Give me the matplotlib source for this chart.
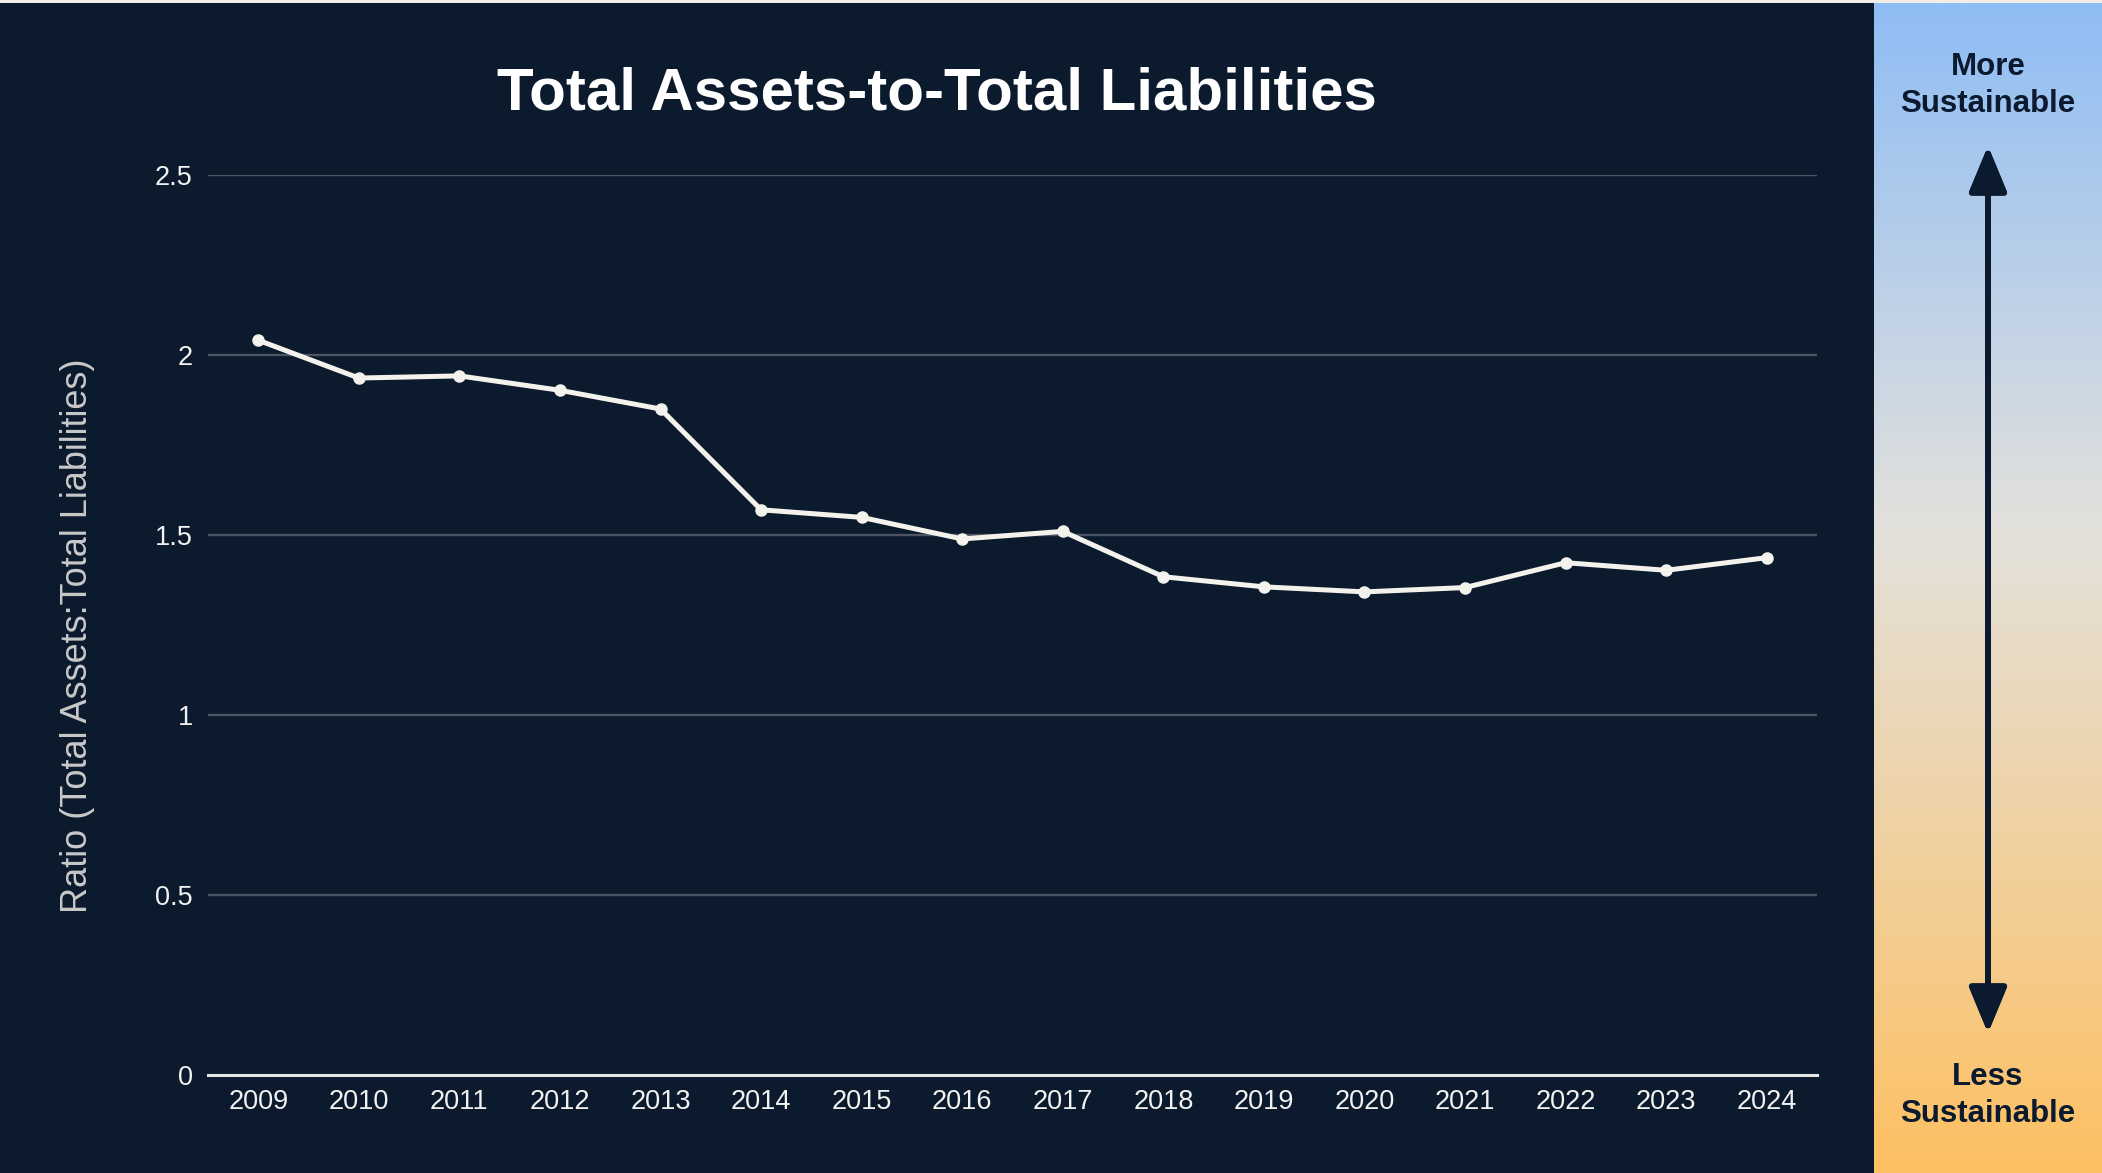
import matplotlib
matplotlib.use("Agg")
import matplotlib.pyplot as plt
import numpy as np
from matplotlib.patches import Rectangle
from matplotlib.colors import LinearSegmentedColormap

years = [2009, 2010, 2011, 2012, 2013, 2014, 2015, 2016,
         2017, 2018, 2019, 2020, 2021, 2022, 2023, 2024]
ratio = [2.041, 1.936, 1.942, 1.902, 1.850, 1.570, 1.549, 1.489,
         1.510, 1.384, 1.356, 1.342, 1.354, 1.423, 1.402, 1.437]
y_ticks = [0, 0.5, 1, 1.5, 2, 2.5]
y_tick_labels = ["0", "0.5", "1", "1.5", "2", "2.5"]

title = "Total Assets-to-Total Liabilities"
y_label = "Ratio (Total Assets:Total Liabilities)"
top_note = "More\nSustainable"
bottom_note = "Less\nSustainable"

bg = "#0b1a2d"
navy = "#0b1a2e"
grid_col = "#4a5462"
line_col = "#f4f2ec"

plt.rcParams['font.family'] = ['Liberation Sans', 'DejaVu Sans']

W, H = 2102, 1173
fig = plt.figure(figsize=(W / 100, H / 100), dpi=100, facecolor=bg)

# thin light strip along the top edge
fig.patches.append(Rectangle((0, 1 - 3 / H), 1, 3 / H, transform=fig.transFigure,
                             facecolor="#f2eee6", edgecolor="none", zorder=5))

# gradient side panel
panel_x = 1874 / W
gax = fig.add_axes([panel_x, 0, 1 - panel_x, 1 - 3 / H])
cmap = LinearSegmentedColormap.from_list(
    "sust", [(0.0, "#8fbdf5"), (0.45, "#e3e1dc"), (1.0, "#fec062")])
grad = np.linspace(0, 1, 512).reshape(-1, 1)
gax.imshow(grad, aspect="auto", cmap=cmap, extent=[0, 1, 1, 0])
gax.set_xlim(0, 1)
gax.set_ylim(1, 0)
gax.axis("off")

# main plot
ax = fig.add_axes([208 / W, 1 - 1075 / H, (1817 - 208) / W, (1075 - 175) / H])
ax.set_facecolor(bg)
x = np.arange(len(years))
ax.plot(x, ratio, color=line_col, lw=3.6, marker="o", ms=8,
        markerfacecolor=line_col, markeredgecolor=line_col, zorder=3,
        solid_joinstyle="round")
ax.set_xlim(-0.5, len(years) - 0.5)
ax.set_ylim(0, 2.5)
ax.set_xticks(x)
ax.set_xticklabels([str(y) for y in years])
ax.set_yticks(y_ticks)
ax.set_yticklabels(y_tick_labels)
ax.tick_params(axis="both", length=0, labelsize=19.5, colors="#f2f2f2")
ax.tick_params(axis="x", pad=10)
ax.tick_params(axis="y", pad=11)
for t in y_ticks[1:]:
    ax.axhline(t, color=grid_col, lw=1.7, zorder=1)
for s in ["top", "right", "left"]:
    ax.spines[s].set_visible(False)
ax.spines["bottom"].set_color("#e6e6e6")
ax.spines["bottom"].set_linewidth(2.2)
ax.spines["bottom"].set_zorder(4)

fig.text(78 / W, 1 - 636 / H, y_label, rotation=90, ha="center", va="center",
         fontsize=26, color="#c9c9c9")

fig.text(937 / W, 1 - 110 / H, title, ha="center", va="baseline",
         fontsize=43.2, fontweight="bold", color="white")

# double arrow and notes on the panel
ax_x = 1988 / W
fig.add_artist(plt.annotate(
    "", xy=(ax_x, 1 - 146 / H), xytext=(ax_x, 1 - 1033 / H),
    xycoords=fig.transFigure, textcoords=fig.transFigure,
    arrowprops=dict(arrowstyle="<|-|>,head_length=1.4,head_width=0.58",
                    mutation_scale=20, lw=4.3, color=navy,
                    shrinkA=0, shrinkB=0)))
fig.text(ax_x, 1 - 85.5 / H, top_note, ha="center", va="center",
         fontsize=22.5, fontweight="bold", color=navy, linespacing=1.3)
fig.text(ax_x, 1 - 1095.5 / H, bottom_note, ha="center", va="center",
         fontsize=22.5, fontweight="bold", color=navy, linespacing=1.3)

fig.savefig("out.png", dpi=100, facecolor=bg)
